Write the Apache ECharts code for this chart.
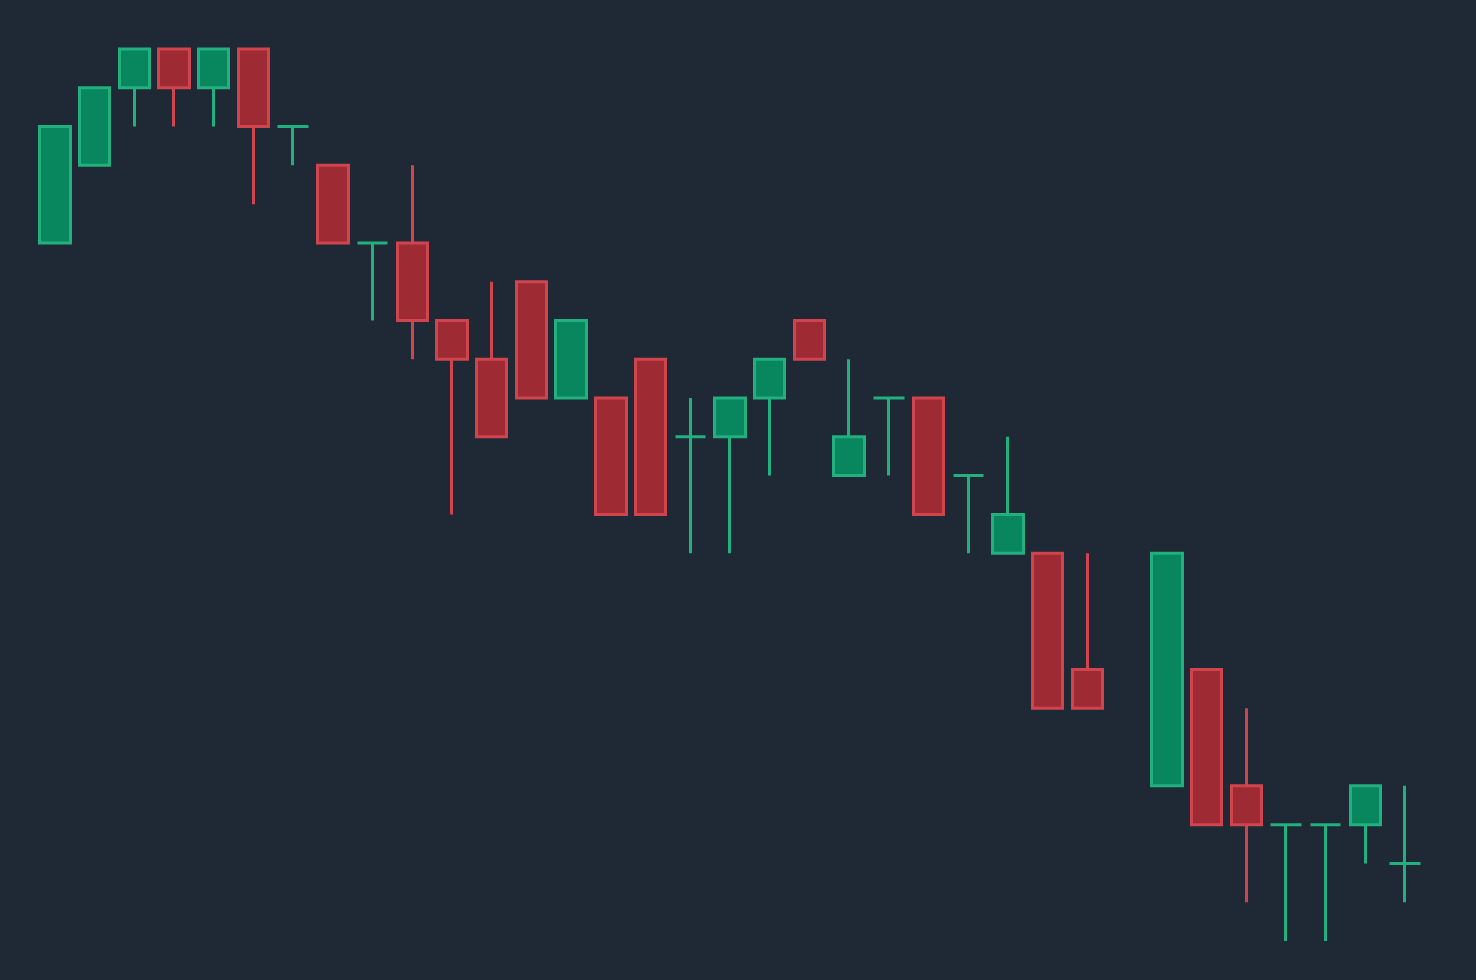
<!DOCTYPE html>
<html>
<head>
<meta charset="utf-8">
<title>Candlestick</title>
<script src="https://cdn.jsdelivr.net/npm/echarts@6/dist/echarts.min.js"></script>
<style>
  html, body { margin: 0; padding: 0; background: #1e2935; }
  #container { width: 1476px; height: 980px; }
</style>
</head>
<body>
<div id="container"></div>
<script>
var myChart = echarts.init(document.getElementById("container"));

// one category per candle, index 27 has no trade
var days = [];
for (var i = 1; i <= 35; i++) days.push("D" + i);

// open / close / low / high, '-' = empty slot
var opens  = [18, 20, 22, 23, 22, 23, 21, 20, 18, 18, 16, 15, 17, 14, 14, 15, 13, 13, 14, 16, 12, 14, 14, 12, 10, 10, 7, '-', 4, 7, 4, 3, 3, 3, 2];
var closes = [21, 22, 23, 22, 23, 21, 21, 18, 18, 16, 15, 13, 14, 16, 11, 11, 13, 14, 15, 15, 13, 14, 11, 12, 11, 6, 6, '-', 10, 3, 3, 3, 3, 4, 2];
var lows   = [18, 20, 21, 21, 21, 19, 20, 18, 16, 15, 11, 13, 14, 14, 11, 11, 10, 10, 12, 15, 12, 12, 11, 10, 10, 6, 6, '-', 4, 3, 1, 0, 0, 2, 1];
var highs  = [21, 22, 23, 23, 23, 23, 21, 20, 18, 20, 16, 17, 17, 16, 14, 15, 14, 14, 15, 16, 15, 14, 14, 12, 13, 10, 10, '-', 10, 7, 6, 3, 3, 4, 4];

var up = { color: "#08875e", border: "#22b07e" };
var down = { color: "#9e2a33", border: "#d0444e" };

var candles = opens.map(function (o, i) {
    if (o === '-') return '-';
    var item = { value: [o, closes[i], lows[i], highs[i]] };
    // flat candles are always drawn green in the picture
    if (o === closes[i]) {
        item.itemStyle = { color: up.color, color0: up.color, borderColor: up.border, borderColor0: up.border };
    }
    return item;
});

myChart.setOption({
    backgroundColor: "#1e2935",
    animation: false,
    grid: { left: 35, right: 51, top: 49, bottom: 39 },
    xAxis: {
        type: "category",
        data: days,
        boundaryGap: true,
        show: false
    },
    yAxis: {
        type: "value",
        min: 0,
        max: 23,
        show: false,
        splitLine: { show: false }
    },
    series: [
        {
            type: "candlestick",
            barWidth: 31,
            data: candles,
            itemStyle: {
                color: up.color,
                color0: down.color,
                borderColor: up.border,
                borderColor0: down.border,
                borderWidth: 3
            }
        }
    ]
});
</script>
</body>
</html>
